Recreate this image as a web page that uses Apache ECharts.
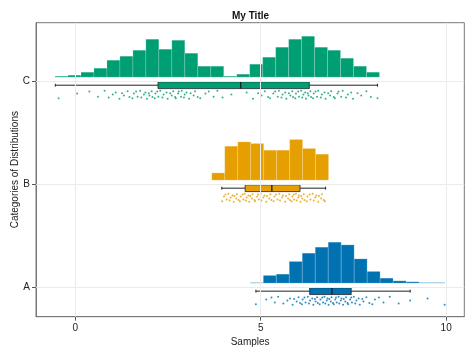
<!DOCTYPE html>
<html><head><meta charset="utf-8">
<script src="https://cdn.jsdelivr.net/npm/echarts@6/dist/echarts.min.js"></script>
<style>html,body{margin:0;padding:0;background:#fff}#c{width:474px;height:355px}</style>
</head><body><div id="c"></div>
<script>
// ---- data ----
const categories = ['A', 'B', 'C'];
const xTicks = [0, 5, 10];
const yTicks = [1, 2, 3];
const colors = ['#0072B2', '#E69F00', '#009E73'];
const binWidth = 0.35;

const histStartA = 4.72;
const histA = [0.5, 7.7, 9, 21.7, 30, 36, 41, 38.3, 24.3, 11.7, 5, 2.3, 1.3, 0.5, 0.5];
const histStartB = 3.68;
const histB = [7.3, 34, 38.3, 36.7, 30, 30, 40.7, 31.7, 26];
const histStartC = -0.547;
const histC = [1, 2, 5, 9, 17, 21, 27, 38, 28, 37, 24, 11, 11, 1, 3, 13, 20, 30, 38, 41, 30, 27, 19, 11, 5];

// [lower whisker, q1, median, q3, upper whisker]
const boxA = [4.87, 6.32, 6.92, 7.44, 9.03];
const boxB = [3.95, 4.58, 5.30, 6.06, 6.75];
const boxC = [-0.54, 2.23, 4.46, 6.31, 8.15];

const samplesA = [4.87, 5.15, 5.29, 5.38, 5.47, 5.61, 5.72, 5.79, 5.86, 5.9, 5.97, 6.02, 6.06, 6.11,
  6.13, 6.18, 6.21, 6.27, 6.3, 6.33, 6.39, 6.42, 6.46, 6.48, 6.52, 6.54, 6.59, 6.61, 6.66, 6.68,
  6.72, 6.74, 6.78, 6.8, 6.83, 6.85, 6.89, 6.91, 6.95, 6.97, 7.01, 7.03, 7.05, 7.1, 7.12, 7.16,
  7.18, 7.22, 7.24, 7.28, 7.3, 7.34, 7.36, 7.41, 7.44, 7.46, 7.51, 7.55, 7.58, 7.64, 7.67, 7.74,
  7.77, 7.85, 7.93, 8.01, 8.08, 8.19, 8.31, 8.48, 8.72, 9.03, 9.5, 9.96];
const samplesB = [3.96, 4.01, 4.05, 4.08, 4.13, 4.16, 4.19, 4.24, 4.27, 4.29, 4.34, 4.36, 4.4, 4.44,
  4.46, 4.51, 4.53, 4.57, 4.6, 4.62, 4.67, 4.69, 4.72, 4.76, 4.78, 4.83, 4.85, 4.9, 4.93, 4.95,
  5.0, 5.02, 5.07, 5.1, 5.15, 5.17, 5.23, 5.26, 5.29, 5.35, 5.37, 5.41, 5.45, 5.5, 5.52, 5.58,
  5.6, 5.66, 5.68, 5.74, 5.77, 5.79, 5.83, 5.85, 5.89, 5.9, 5.95, 5.97, 6.01, 6.03, 6.07, 6.09,
  6.12, 6.16, 6.18, 6.24, 6.26, 6.32, 6.34, 6.4, 6.43, 6.47, 6.5, 6.55, 6.57, 6.63, 6.65, 6.7, 6.73];
const samplesC = [-0.45, 0.05, 0.38, 0.61, 0.79, 0.9, 1.01, 1.09, 1.19, 1.26, 1.31, 1.41, 1.46, 1.54,
  1.58, 1.64, 1.68, 1.75, 1.78, 1.85, 1.89, 1.93, 1.98, 2.0, 2.06, 2.08, 2.14, 2.16, 2.21, 2.24,
  2.29, 2.35, 2.38, 2.46, 2.49, 2.56, 2.6, 2.64, 2.69, 2.71, 2.77, 2.79, 2.85, 2.87, 2.93, 2.95,
  3.0, 3.07, 3.11, 3.19, 3.23, 3.3, 3.37, 3.51, 3.6, 3.73, 3.83, 3.97, 4.21, 4.62, 4.79, 4.93,
  5.02, 5.11, 5.2, 5.25, 5.34, 5.39, 5.46, 5.49, 5.56, 5.59, 5.66, 5.69, 5.76, 5.8, 5.85, 5.87,
  5.93, 5.95, 6.01, 6.03, 6.09, 6.12, 6.15, 6.2, 6.22, 6.27, 6.29, 6.34, 6.36, 6.41, 6.43, 6.48,
  6.52, 6.55, 6.62, 6.65, 6.72, 6.75, 6.82, 6.87, 6.9, 6.97, 7.0, 7.07, 7.1, 7.17, 7.21, 7.3,
  7.35, 7.44, 7.49, 7.61, 7.71, 7.85, 7.97, 8.15];

// ---- layout / style constants ----
const jitterOffsets = [-0.034, 0.012, 0.031, -0.018, 0.038, -0.027, 0.003, 0.022, -0.039, 0.016, -0.008, 0.034, -0.021];
const histBaseOff = 0.044;
const histScale = 0.0097;
const boxOff = -0.034;
const boxHalf = 0.033;
const capHalf = 0.014;
const jitterCenter = -0.127;
const FONT = 'Liberation Sans, Arial, sans-serif';

const groups = [
  { hist: histA, start: histStartA, box: boxA, samples: samplesA },
  { hist: histB, start: histStartB, box: boxB, samples: samplesB },
  { hist: histC, start: histStartC, box: boxC, samples: samplesC }
];

const series = [];
series.push({
  type: 'line', data: [], z: 0, silent: true,
  markLine: {
    silent: true, symbol: 'none', label: { show: false },
    lineStyle: { color: '#ebebeb', width: 1, type: 'solid' },
    data: xTicks.map(v => ({ xAxis: v })).concat(yTicks.map(v => ({ yAxis: v })))
  }
});

groups.forEach((g, i) => {
  const cat = yTicks[i];
  const color = colors[i];
  series.push({
    type: 'custom', z: 2, silent: true, clip: false,
    data: g.hist.map((h, k) => [g.start + k * binWidth, g.start + (k + 1) * binWidth, h]),
    renderItem: (params, api) => {
      const p0 = api.coord([api.value(0), cat + histBaseOff]);
      const p1 = api.coord([api.value(1), cat + histBaseOff + api.value(2) * histScale]);
      return {
        type: 'rect',
        shape: { x: p0[0], y: p1[1], width: p1[0] - p0[0], height: p0[1] - p1[1] },
        style: { fill: color, stroke: 'rgba(255,255,255,0.3)', lineWidth: 0.6 }
      };
    }
  });
  series.push({
    type: 'custom', z: 3, silent: true, clip: false,
    data: [g.box],
    renderItem: (params, api) => {
      const v = [0, 1, 2, 3, 4].map(d => api.value(d));
      const yc = cat + boxOff;
      const c = x => api.coord([x, yc]);
      const top = api.coord([0, yc + boxHalf])[1];
      const bot = api.coord([0, yc - boxHalf])[1];
      const capT = api.coord([0, yc + capHalf])[1];
      const capB = api.coord([0, yc - capHalf])[1];
      const ls = { stroke: '#222', lineWidth: 1 };
      const pLo = c(v[0]), pQ1 = c(v[1]), pMed = c(v[2]), pQ3 = c(v[3]), pHi = c(v[4]);
      return {
        type: 'group',
        children: [
          { type: 'line', shape: { x1: pLo[0], y1: pLo[1], x2: pQ1[0], y2: pQ1[1] }, style: ls },
          { type: 'line', shape: { x1: pQ3[0], y1: pQ3[1], x2: pHi[0], y2: pHi[1] }, style: ls },
          { type: 'line', shape: { x1: pLo[0], y1: capT, x2: pLo[0], y2: capB }, style: ls },
          { type: 'line', shape: { x1: pHi[0], y1: capT, x2: pHi[0], y2: capB }, style: ls },
          { type: 'rect', shape: { x: pQ1[0], y: top, width: pQ3[0] - pQ1[0], height: bot - top },
            style: { fill: color, stroke: '#222', lineWidth: 0.8 } },
          { type: 'line', shape: { x1: pMed[0], y1: top, x2: pMed[0], y2: bot }, style: { stroke: '#111', lineWidth: 1.2 } }
        ]
      };
    }
  });
  series.push({
    type: 'scatter', z: 3, silent: true,
    symbolSize: 2,
    itemStyle: { color: color, opacity: 0.8 },
    data: g.samples.map((x, k) => [x, cat + jitterCenter + jitterOffsets[k % jitterOffsets.length]])
  });
});

const chart = echarts.init(document.getElementById('c'), null, { renderer: 'canvas' });
chart.setOption({
  animation: false,
  backgroundColor: '#fff',
  title: {
    text: 'My Title', left: 227, top: 6,
    textStyle: { fontFamily: FONT, fontSize: 10, fontWeight: 'bold', color: '#111' }
  },
  grid: { left: 36, right: 9.7, top: 22.7, bottom: 38.3, show: true, borderColor: '#777', borderWidth: 1,
    containLabel: false, outerBoundsMode: 'none' },
  xAxis: {
    type: 'value', min: -1.06, max: 10.49,
    name: 'Samples', nameLocation: 'middle', nameGap: 21, nameMoveOverlap: false,
    nameTextStyle: { fontFamily: FONT, fontSize: 10, color: '#222' },
    axisLine: { show: true, onZero: false, lineStyle: { color: '#777' } },
    axisTick: { show: true, inside: false, length: 4, lineStyle: { color: '#555' }, customValues: xTicks },
    axisLabel: { fontFamily: FONT, fontSize: 10, color: '#222', margin: 7, customValues: xTicks },
    splitLine: { show: false }
  },
  yAxis: {
    type: 'value', min: 0.718, max: 3.573,
    name: 'Categories of Distributions', nameLocation: 'middle', nameGap: 16, nameRotate: 90, nameMoveOverlap: false,
    nameTextStyle: { fontFamily: FONT, fontSize: 10, color: '#222' },
    axisLine: { show: true, onZero: false, lineStyle: { color: '#777' } },
    axisTick: { show: true, inside: false, length: 4, lineStyle: { color: '#555' }, customValues: yTicks },
    axisLabel: { fontFamily: FONT, fontSize: 10, color: '#222', margin: 6, customValues: yTicks,
      formatter: v => categories[Math.round(v) - 1] || '' },
    splitLine: { show: false }
  },
  series: series
});
</script>
</body></html>
